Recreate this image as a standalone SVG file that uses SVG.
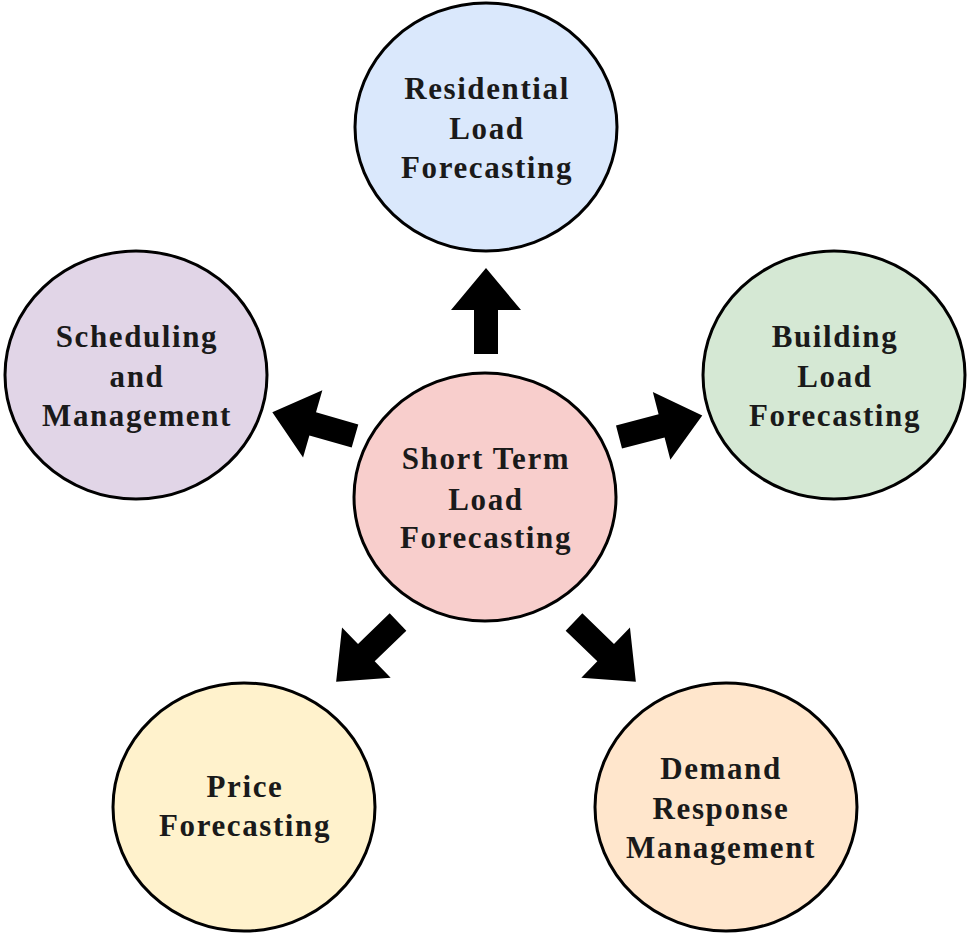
<svg xmlns="http://www.w3.org/2000/svg" xmlns:xlink="http://www.w3.org/1999/xlink" width="967" height="934" viewBox="0 0 967 934">
<style>
.node{stroke:#000;stroke-width:3}
.lbl{font-family:"Liberation Serif","Times New Roman",serif;font-weight:bold;font-size:31px;letter-spacing:1.6px;fill:#1a1a1a;text-anchor:middle}
.arr{fill:#000}
</style>
<defs>
<polygon id="blk" points="0,-12 44,-12 44,-35 86,0 44,35 44,12 0,12"/>
</defs>
<rect width="967" height="934" fill="#fff"/>
<g id="connectors">
<use xlink:href="#blk" class="arr" transform="translate(486,354) rotate(-90)"/>
<use xlink:href="#blk" class="arr" transform="translate(619,437) rotate(-14.5)"/>
<use xlink:href="#blk" class="arr" transform="translate(355,436) rotate(196)"/>
<use xlink:href="#blk" class="arr" transform="translate(398,622) rotate(136)"/>
<use xlink:href="#blk" class="arr" transform="translate(574,622) rotate(44)"/>
</g>
<g id="residential">
<ellipse class="node" cx="486" cy="127" rx="131" ry="124" fill="#dae8fc"/>
<text class="lbl" x="487" y="99">Residential</text>
<text class="lbl" x="487" y="139">Load</text>
<text class="lbl" x="487" y="178">Forecasting</text>
</g>
<g id="scheduling">
<ellipse class="node" cx="136" cy="375" rx="131" ry="124" fill="#e1d5e7"/>
<text class="lbl" x="137" y="347">Scheduling</text>
<text class="lbl" x="137" y="387">and</text>
<text class="lbl" x="137" y="426">Management</text>
</g>
<g id="building">
<ellipse class="node" cx="834" cy="375" rx="131" ry="124" fill="#d5e8d4"/>
<text class="lbl" x="835" y="347">Building</text>
<text class="lbl" x="835" y="387">Load</text>
<text class="lbl" x="835" y="426">Forecasting</text>
</g>
<g id="stlf">
<ellipse class="node" cx="485" cy="497" rx="131" ry="124" fill="#f8cecc"/>
<text class="lbl" x="486" y="469">Short Term</text>
<text class="lbl" x="486" y="510">Load</text>
<text class="lbl" x="486" y="548">Forecasting</text>
</g>
<g id="price">
<ellipse class="node" cx="244" cy="807" rx="131" ry="124" fill="#fff2cc"/>
<text class="lbl" x="245" y="797">Price</text>
<text class="lbl" x="245" y="836">Forecasting</text>
</g>
<g id="demand">
<ellipse class="node" cx="726" cy="807" rx="131" ry="124" fill="#ffe6cc"/>
<text class="lbl" x="721" y="779">Demand</text>
<text class="lbl" x="721" y="819">Response</text>
<text class="lbl" x="721" y="858">Management</text>
</g>
</svg>
